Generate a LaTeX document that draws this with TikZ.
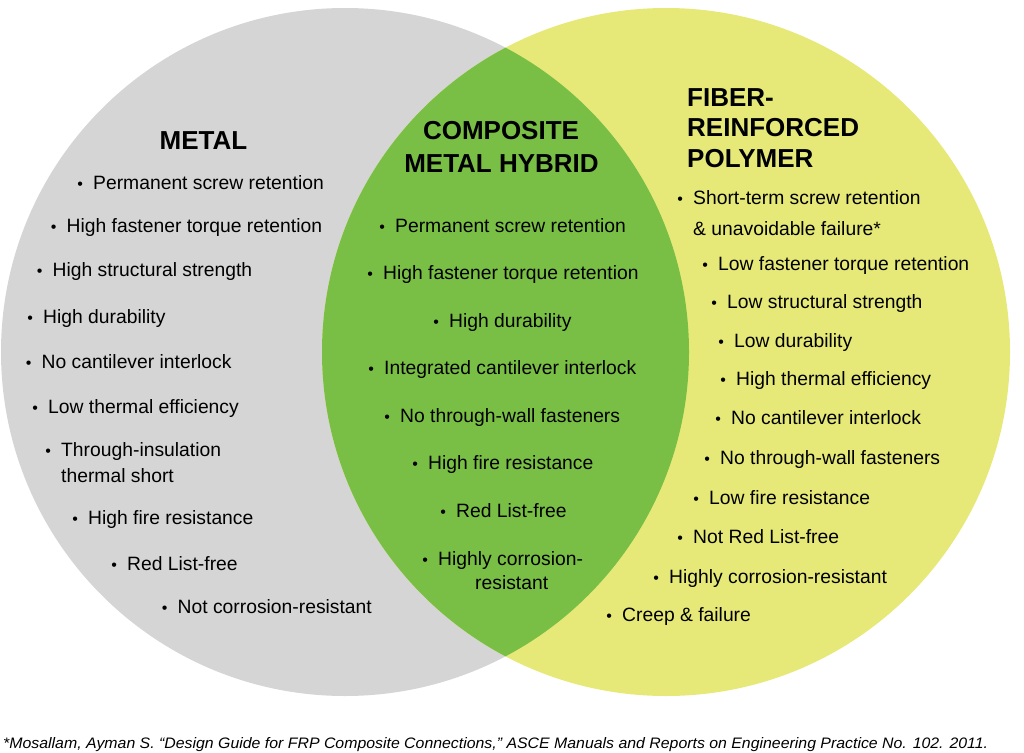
\documentclass[tikz,border=0pt]{standalone}
\usepackage{fontspec}
\setmainfont{Liberation Sans}
\usepackage{graphicx}
\definecolor{metalgray}{HTML}{D4D5D4}
\definecolor{frpyellow}{HTML}{E6E978}
\definecolor{hybgreen}{HTML}{79BF45}
\newcommand{\bulmark}{\llap{{\fontsize{16}{16}\selectfont •}\hspace{10.2pt}}}
\newcommand{\bit}[4]{\node[item] (#1) at (#2,#3+6.5) {\bulmark #4};}
\newcommand{\bcont}[4]{\node[item] (#1) at (#2,#3+6.5) {#4};}
\begin{document}
\begin{tikzpicture}[x=1pt,y=-1pt,
  item/.style={anchor=base west,inner sep=0pt,font=\fontsize{19.3}{23}\selectfont},
  ttl/.style={anchor=base,inner sep=0pt,font=\fontsize{26}{33}\bfseries},
  ttlw/.style={anchor=base west,inner sep=0pt,font=\fontsize{26}{33}\bfseries}]
\useasboundingbox (0,0) rectangle (1024,752);
% circles
\fill[metalgray] (345,352) circle (344);
\fill[frpyellow] (666,352) circle (344);
\begin{scope}
  \clip (345,352) circle (344);
  \fill[hybgreen] (666,352) circle (344);
\end{scope}
% titles
\node[ttl] (tmetal) at (203.5,149) {METAL};
\node[ttl] (thyb1) at (501,139) {COMPOSITE};
\node[ttl] (thyb2) at (501.5,172) {METAL HYBRID};
\node[ttlw] (tfrp1) at (687,106) {FIBER-};
\node[ttlw] (tfrp2) at (687,136) {REINFORCED};
\node[ttlw] (tfrp3) at (687,167) {POLYMER};
% metal
\bit{m1}{93}{183}{Permanent screw retention}
\bit{m2}{66.5}{226}{High fastener torque retention}
\bit{m3}{52.5}{270}{High structural strength}
\bit{m4}{43}{317}{High durability}
\bit{m5}{41.5}{362}{No cantilever interlock}
\bit{m6}{48}{407}{Low thermal efficiency}
\bit{m7}{61}{450}{Through-insulation}
\bcont{m7b}{61}{476}{thermal short}
\bit{m8}{88}{518}{High fire resistance}
\bit{m9}{127}{564}{Red List-free}
\bit{m10}{177.5}{607}{Not corrosion-resistant}
% hybrid
\bit{h1}{395}{226}{Permanent screw retention}
\bit{h2}{383}{273}{High fastener torque retention}
\bit{h3}{449}{321}{High durability}
\bit{h4}{384}{368}{Integrated cantilever interlock}
\bit{h5}{400}{416}{No through-wall fasteners}
\bit{h6}{428}{463}{High fire resistance}
\bit{h7}{456}{511}{Red List-free}
\bit{h8}{438}{559}{Highly corrosion-}
\bcont{h8b}{475}{583}{resistant}
% FRP
\bit{f1}{693}{198}{Short-term screw retention}
\bcont{f1b}{693}{229}{\& unavoidable failure*}
\bit{f2}{718}{264}{Low fastener torque retention}
\bit{f3}{727}{302}{Low structural strength}
\bit{f4}{734}{341}{Low durability}
\bit{f5}{736}{379}{High thermal efficiency}
\bit{f6}{731}{418}{No cantilever interlock}
\bit{f7}{720}{458}{No through-wall fasteners}
\bit{f8}{709}{498}{Low fire resistance}
\bit{f9}{693}{537}{Not Red List-free}
\bit{f10}{669}{577}{Highly corrosion-resistant}
\bit{f11}{622}{615}{Creep \& failure}
% footnote
\node[anchor=base west,inner sep=0pt] (foot) at (3,748)
  {\resizebox{985pt}{11pt}{\fontsize{14}{14}\selectfont\itshape *Mosallam, Ayman S. “Design Guide for FRP Composite Connections,” ASCE Manuals and Reports on Engineering Practice No. 102. 2011.}};
\end{tikzpicture}
\end{document}
